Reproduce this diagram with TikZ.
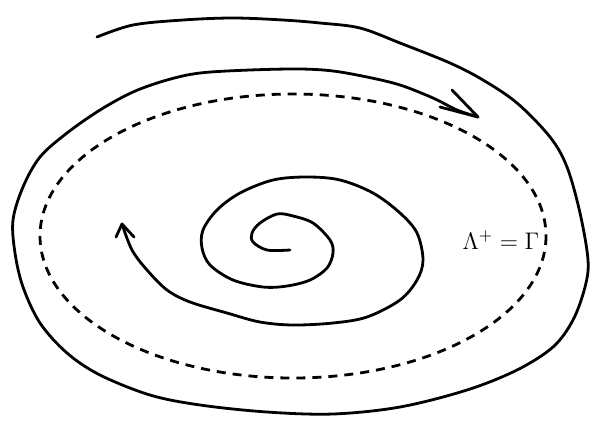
\documentclass[tikz,border=0pt]{standalone}
\begin{document}
\begin{tikzpicture}[x=0.5pt,y=-0.5pt,
  curve/.style={line width=1.4pt, line cap=round, line join=round},
  limitcycle/.style={line width=1.4pt, dash pattern=on 4.5pt off 3.5pt},
  lbl/.style={inner sep=0pt, font=\fontsize{11.5}{14}\selectfont}]
\useasboundingbox (0,0) rectangle (608,434);
% outer trajectory spiralling inward
\draw[curve] plot[smooth, tension=0.55] coordinates {
 (97,37) (133,25) (183,20) (233,18) (283,20) (320,23) (360,28) (400,43)
 (450,63) (483,80) (517,103) (550,137) (567,167) (580,213) (588,260)
 (585,287) (573,320) (553,347) (517,370) (467,390) (400,407) (333,414)
 (267,412) (200,405) (150,395) (100,375) (67,353) (40,323) (23,287)
 (15,253) (13,220) (23,187) (40,157) (67,133) (100,110) (133,92)
 (167,80) (200,73) (250,70) (300,69) (333,71) (367,77) (400,85)
 (433,98) (457,110) (478,117)};
\coordinate (tipA) at (478,117);
\coordinate (barbA1) at (452,90);
\coordinate (barbA2) at (440,107);
\draw[curve] (barbA1) -- (tipA) -- (barbA2);
% limit cycle
\draw[limitcycle] (293,236) ellipse [x radius=253, y radius=142];
\node[lbl] (gamma) at (501,240) {$\Lambda^+ = \Gamma$};
% inner trajectory spiralling outward
\draw[curve] plot[smooth, tension=0.55] coordinates {
 (290,250) (267,250) (253,242) (252,233) (260,223) (277,214) (293,216)
 (313,223) (330,240) (333,253) (327,268) (310,280) (287,286) (263,287)
 (233,280) (210,265) (202,248) (203,230) (217,210) (240,193) (273,180)
 (307,177) (340,180) (373,193) (400,213) (417,233) (423,260) (417,280)
 (400,300) (367,317) (333,323) (293,325) (260,322) (227,313) (190,302)
 (167,290) (147,270) (132,250) (122,224)};
\coordinate (tipB) at (122,224);
\coordinate (barbB1) at (116,237);
\coordinate (barbB2) at (134,237);
\draw[curve] (barbB1) -- (tipB) -- (barbB2);
\end{tikzpicture}
\end{document}
